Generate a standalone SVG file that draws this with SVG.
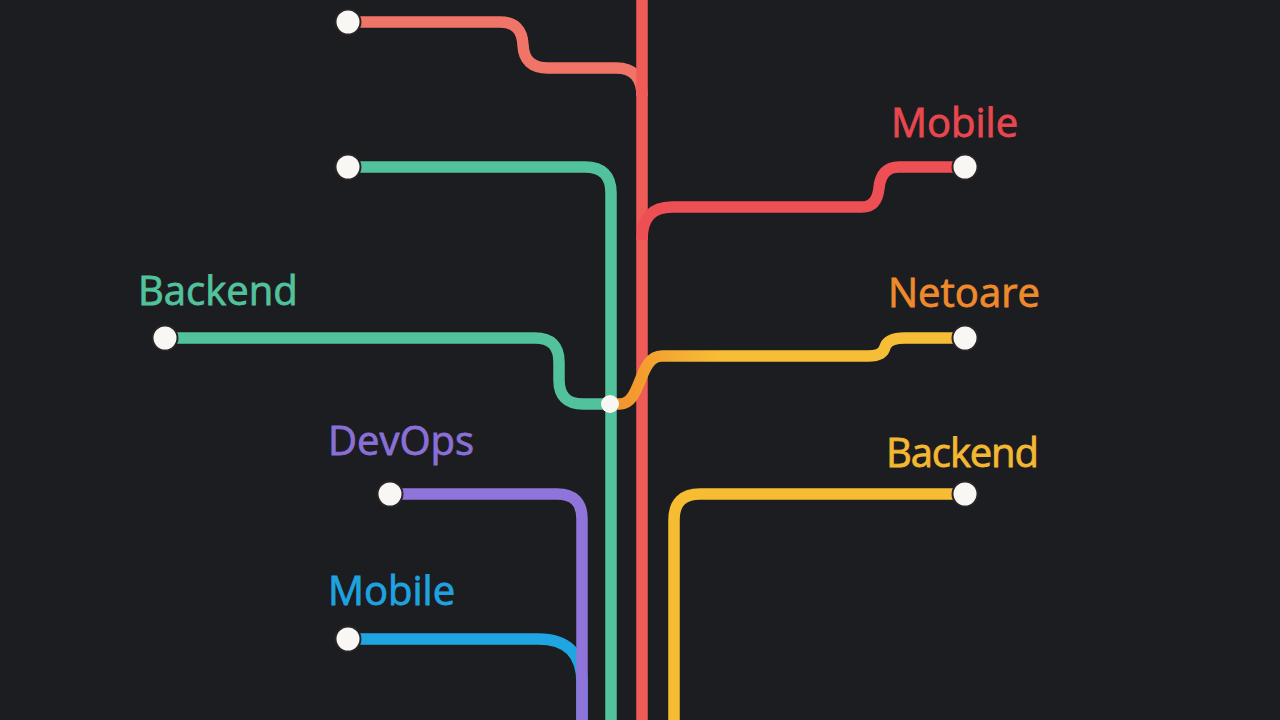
<svg xmlns="http://www.w3.org/2000/svg" width="1280" height="720" viewBox="0 0 1280 720">
  <defs>
    <linearGradient id="gYellow" gradientUnits="userSpaceOnUse" x1="610" y1="0" x2="720" y2="0">
      <stop offset="0" stop-color="#f2902c"/>
      <stop offset="1" stop-color="#f6be36"/>
    </linearGradient>
    <style>
      .line { fill: none; stroke-width: 11.5; stroke-linecap: butt; stroke-linejoin: round; }
      .dot { fill: #f8f7f3; stroke: #2a2426; stroke-width: 2; }
      .lbl { font-family: "Open Sans", "Noto Sans", "Liberation Sans", sans-serif; font-size: 40px; font-weight: 400; stroke-width: 0.8; paint-order: stroke; }
    </style>
  </defs>
  <rect width="1280" height="720" fill="#1c1d21"/>

  <g id="connectors">
    <path class="line" stroke="#f07468" d="M348,22 H500 Q522,22 523,45 Q524,68 548,68 H616 Q642,68 642,96"/>
    <path class="line" stroke="#ef5b57" d="M642,0 V720"/>
    <path class="line" stroke="#52c29c" d="M348,167 H585 Q611,167 611,193 V720"/>
    <path class="line" stroke="#ee4f55" d="M642,240 Q642,207 672,207 H862 Q877,207 879,188 Q881,167 899,167 H965"/>
    <path class="line" stroke="#52c29c" d="M165,338 H535 Q559,338 559,362 V380 Q559,404 583,404 H610"/>
    <path class="line" stroke="url(#gYellow)" d="M610,404 H620 C642,404 638,356 662,356 H868 Q883,356 885,347 Q888,338 905,338 H965"/>
    <path class="line" stroke="#1fa6e2" d="M348,639 H538 Q582,639 582,683 V720"/>
    <path class="line" stroke="#8f74d9" d="M390,494 H557 Q582,494 582,519 V720"/>
    <path class="line" stroke="#f6bd33" d="M965,494 H700 Q674,494 674,520 V720"/>
  </g>

  <g id="node-top-left">
    <circle class="dot" cx="348" cy="22" r="12.5"/>
  </g>
  <g id="node-green-top">
    <circle class="dot" cx="348" cy="167" r="12.5"/>
  </g>
  <g id="node-mobile-red">
    <text class="lbl" x="891" y="137" fill="#e8474f" stroke="#e8474f">Mobile</text>
    <circle class="dot" cx="965" cy="167" r="12.5"/>
  </g>
  <g id="node-backend-green">
    <text class="lbl" x="138" y="305" fill="#52c29c" stroke="#52c29c">Backend</text>
    <circle class="dot" cx="165" cy="338" r="12.5"/>
  </g>
  <g id="node-netoare">
    <text class="lbl" x="888" y="307" fill="#ef8a2c" stroke="#ef8a2c">Netoare</text>
    <circle class="dot" cx="965" cy="338" r="12.5"/>
  </g>
  <g id="node-junction">
    <circle cx="610" cy="404" r="9" fill="#f8f7f3"/>
  </g>
  <g id="node-devops">
    <text class="lbl" x="328" y="455" fill="#8a70d6" stroke="#8a70d6">DevOps</text>
    <circle class="dot" cx="390" cy="494" r="12.5"/>
  </g>
  <g id="node-backend-yellow">
    <text class="lbl" x="886" y="467" fill="#f4b731" stroke="#f4b731" textLength="153">Backend</text>
    <circle class="dot" cx="965" cy="494" r="12.5"/>
  </g>
  <g id="node-mobile-blue">
    <text class="lbl" x="328" y="605" fill="#1fa3e0" stroke="#1fa3e0">Mobile</text>
    <circle class="dot" cx="348" cy="639" r="12.5"/>
  </g>
</svg>
